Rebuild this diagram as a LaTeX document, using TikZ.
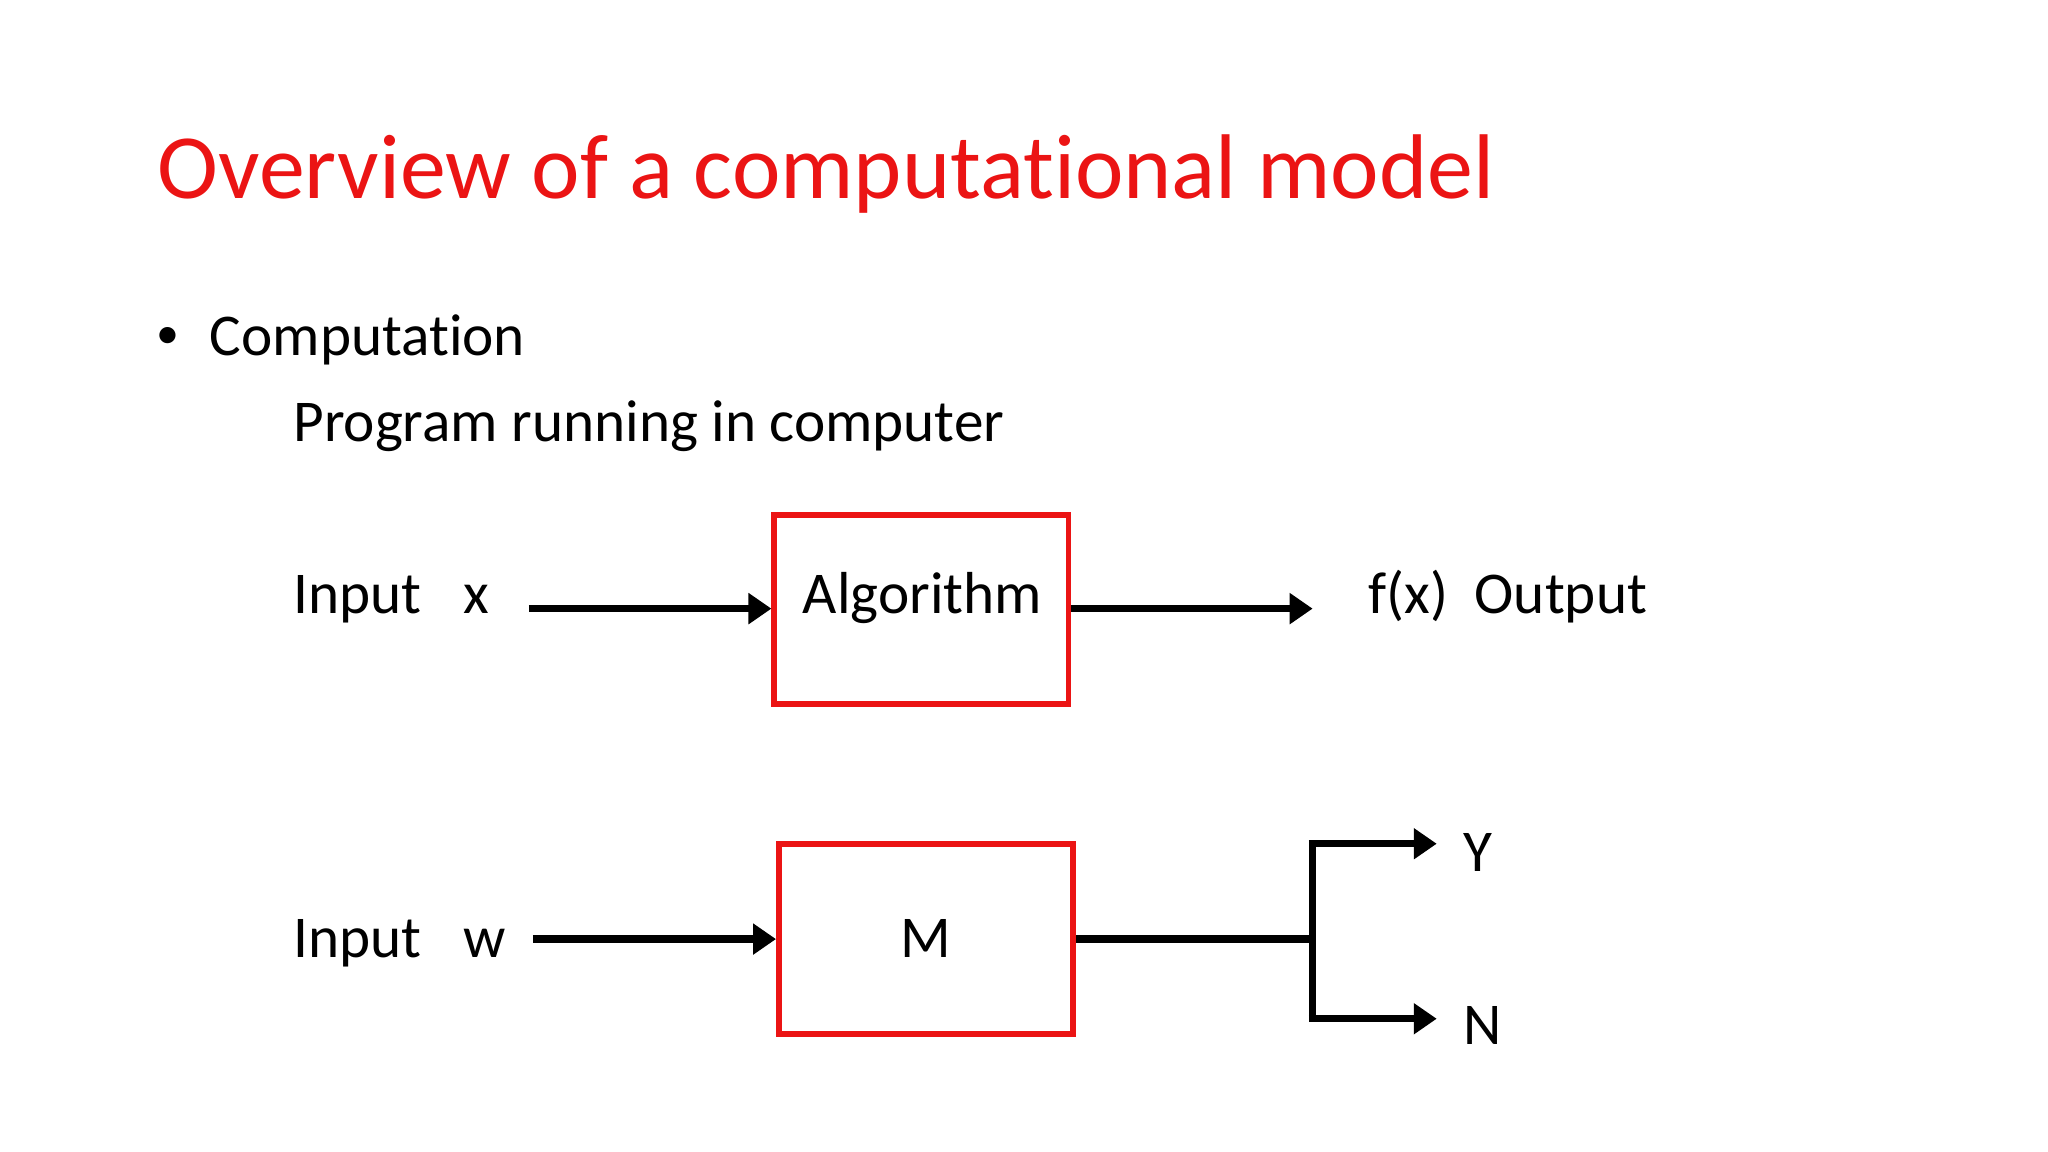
\documentclass[tikz,border=0pt]{standalone}
\usepackage{fontspec}
\setmainfont[Ligatures=NoCommon]{Carlito}
\usetikzlibrary{arrows.meta}
\definecolor{tred}{RGB}{235,20,20}
\begin{document}
\begin{tikzpicture}[x=0.01cm,y=0.01cm,
  body/.style={font=\fontsize{12.9pt}{15pt}\selectfont,inner sep=0pt,anchor=base west},
  box/.style={draw=tred,line width=1.3pt,minimum width=2.25cm,minimum height=1.45cm,inner sep=0pt},
  arr/.style={line width=1.6pt,-{Triangle[length=5pt,width=6.5pt]}},
  ln/.style={line width=1.6pt}]
\useasboundingbox (0,0) rectangle (1568,882);
\node[anchor=base west,inner sep=0pt,text=tred,font=\fontsize{20pt}{24pt}\selectfont] (title) at (120,730) {Overview of a computational model};
\node[body,font=\fontsize{10pt}{12pt}\selectfont] (bul) at (119,615) {•};
\node[body] (comp) at (160,610) {Computation};
\node[body] (prog) at (224,544) {Program running in computer};
\node[body] (in1) at (224,412) {Input};
\node[body] (x) at (354,412) {x};
\node[box] (alg) at (705.5,415.5) {};
\node[body] (algt) at (614,412) {Algorithm};
\coordinate (a1) at (405,416);
\coordinate (a2) at (1005,416);
\draw[arr] (a1) -- (alg.west|-a1);
\draw[arr] (alg.east|-a2) -- (a2);
\node[body] (out) at (1047,412) {f(x)\hspace{0.45em}Output};
\node[body] (in2) at (224,149) {Input};
\node[body] (w) at (354,149) {w};
\node[box] (m) at (709,163) {};
\node[body,anchor=base] (mt) at (709,149) {M};
\coordinate (b1) at (408,163);
\coordinate (j) at (1005,163);
\coordinate (jt) at (1005,236);
\coordinate (jb) at (1005,102);
\coordinate (yt) at (1100,236);
\coordinate (nb) at (1100,102);
\draw[arr] (b1) -- (m.west);
\draw[ln] (m.east) -- (j);
\draw[ln] (jt) -- (jb);
\draw[arr] ([xshift=-0.8pt]jt) -- (yt);
\draw[arr] ([xshift=-0.8pt]jb) -- (nb);
\node[body] (Y) at (1120,215) {Y};
\node[body] (N) at (1120,82) {N};
\end{tikzpicture}
\end{document}
